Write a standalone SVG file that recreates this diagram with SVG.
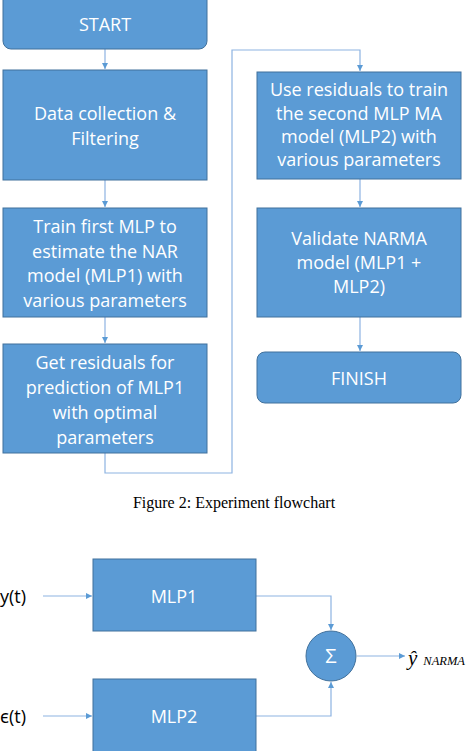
<svg xmlns="http://www.w3.org/2000/svg" width="474" height="751" viewBox="0 0 474 751">
<defs>
<style>
.box{fill:#5B9BD5;stroke:#41719C;stroke-width:1}
.t{font-family:"Open Sans","Noto Sans",sans-serif;font-size:18px;fill:#fff;text-anchor:middle}
.c{fill:none;stroke:#8DB3E2;stroke-width:1.2}
.lbl{font-family:"Open Sans","Noto Sans",sans-serif;font-size:18px;fill:#000}
</style>
<marker id="ah" markerWidth="8" markerHeight="8" refX="6" refY="3" orient="auto" markerUnits="userSpaceOnUse">
<path d="M0,0 L6,3 L0,6 z" fill="#5B9BD5"/>
</marker>
</defs>
<rect width="474" height="751" fill="#fff"/>
<g id="connectors">
<path class="c" d="M105,49 V69" marker-end="url(#ah)"/>
<path class="c" d="M105,180 V207" marker-end="url(#ah)"/>
<path class="c" d="M105,317 V343" marker-end="url(#ah)"/>
<path class="c" d="M105,453 V473 H232 V50 H360 V71" marker-end="url(#ah)"/>
<path class="c" d="M360,179 V207" marker-end="url(#ah)"/>
<path class="c" d="M360,317 V351" marker-end="url(#ah)"/>
<path class="c" d="M43,596 H92" marker-end="url(#ah)"/>
<path class="c" d="M43,716 H92" marker-end="url(#ah)"/>
<path class="c" d="M256,596 H331 V630" marker-end="url(#ah)"/>
<path class="c" d="M256,716 H331 V682" marker-end="url(#ah)"/>
<path class="c" d="M357,656 H405" marker-end="url(#ah)"/>
</g>
<g id="start"><rect class="box" x="3" y="-8" width="204" height="57" rx="8"/><text class="t" x="105" y="31">START</text></g>
<g id="data"><rect class="box" x="3" y="70" width="204" height="110"/><text class="t" x="105" y="120">Data collection &amp;</text><text class="t" x="105" y="145">Filtering</text></g>
<g id="train1"><rect class="box" x="3" y="208" width="204" height="109"/><text class="t" x="105" y="233">Train first MLP to</text><text class="t" x="105" y="258">estimate the NAR</text><text class="t" x="105" y="282">model (MLP1) with</text><text class="t" x="105" y="307">various parameters</text></g>
<g id="residuals"><rect class="box" x="3" y="344" width="204" height="109"/><text class="t" x="105" y="369">Get residuals for</text><text class="t" x="105" y="394">prediction of MLP1</text><text class="t" x="105" y="419">with optimal</text><text class="t" x="105" y="444">parameters</text></g>
<g id="train2"><rect class="box" x="257" y="72" width="204" height="107"/><text class="t" x="359" y="96">Use residuals to train</text><text class="t" x="359" y="120">the second MLP MA</text><text class="t" x="359" y="143">model (MLP2) with</text><text class="t" x="359" y="166">various parameters</text></g>
<g id="validate"><rect class="box" x="257" y="208" width="204" height="109"/><text class="t" x="359" y="245">Validate NARMA</text><text class="t" x="359" y="269">model (MLP1 +</text><text class="t" x="359" y="293">MLP2)</text></g>
<g id="finish"><rect class="box" x="257" y="352" width="204" height="51" rx="8"/><text class="t" x="359" y="385">FINISH</text></g>
<text x="234" y="508" style="font-family:'Liberation Serif',serif;font-size:16px;fill:#000;text-anchor:middle">Figure 2: Experiment flowchart</text>
<g id="mlp1"><rect class="box" x="93" y="559" width="163" height="72"/><text class="t" x="174" y="603">MLP1</text></g>
<g id="mlp2"><rect class="box" x="93" y="679" width="163" height="80"/><text class="t" x="174" y="723">MLP2</text></g>
<g id="sum"><circle class="box" cx="331" cy="656" r="25"/><text class="t" x="331" y="663" style="font-size:20px">Σ</text></g>
<text class="lbl" x="0" y="603">y(t)</text>
<text class="lbl" x="0" y="723">ϵ(t)</text>
<text x="408" y="665" style="font-family:'Liberation Serif',serif;font-style:italic;fill:#000"><tspan font-size="21">ŷ</tspan><tspan font-size="12.5" dx="6">NARMA</tspan></text>
</svg>
